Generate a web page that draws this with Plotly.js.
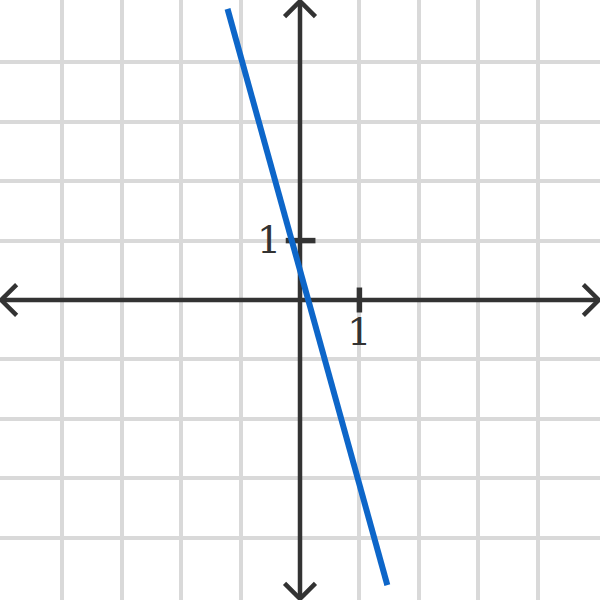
<!DOCTYPE html>
<html>
<head>
<meta charset="utf-8">
<script src="https://cdn.plot.ly/plotly-3.0.1.min.js"></script>
<style>
  html, body { margin: 0; padding: 0; background: #fff; }
  #plot { width: 600px; height: 600px; }
</style>
</head>
<body>
<div id="plot"></div>
<script>
// line y = -3.6x + 0.5, drawn between the visible endpoints
var lineX = [-1.22, 1.47];
var lineY = [4.9, -4.8];

// axes with chevron arrow heads
var xAxisX = [-5.03, 5.03];
var xAxisY = [0, 0];
var yAxisX = [0, 0];
var yAxisY = [-5.03, 5.03];
var arrowSize = 0.26;

// grid lines sit on the inner integers only
var gridVals = [-4, -3, -2, -1, 0, 1, 2, 3, 4];

// tick labels
var tickLabels = ["1", "1"];
var tickLabelX = [1, -0.52];
var tickLabelY = [-0.6, 0.95];

var axisColor = "#333333";

function chevron(tipX, tipY, dx, dy) {
  // dx, dy: direction the arrow points
  if (dx !== 0) {
    return {
      x: [tipX - dx * arrowSize, tipX, tipX - dx * arrowSize],
      y: [tipY + arrowSize, tipY, tipY - arrowSize]
    };
  }
  return {
    x: [tipX - arrowSize, tipX, tipX + arrowSize],
    y: [tipY - dy * arrowSize, tipY, tipY - dy * arrowSize]
  };
}

function axisTrace(x, y) {
  return {
    x: x, y: y, type: "scatter", mode: "lines",
    line: { color: axisColor, width: 4.5 },
    hoverinfo: "skip", showlegend: false
  };
}

var heads = [
  chevron(xAxisX[1], 0, 1, 0),
  chevron(xAxisX[0], 0, -1, 0),
  chevron(0, yAxisY[1], 0, 1),
  chevron(0, yAxisY[0], 0, -1)
];

var data = [
  axisTrace(xAxisX, xAxisY),
  axisTrace(yAxisX, yAxisY)
];
heads.forEach(function (h) { data.push(axisTrace(h.x, h.y)); });

// tick marks
data.push({
  x: [1, 1], y: [-0.21, 0.21], type: "scatter", mode: "lines",
  line: { color: axisColor, width: 5.5 }, hoverinfo: "skip", showlegend: false
});
data.push({
  x: [-0.24, 0.26], y: [1, 1], type: "scatter", mode: "lines",
  line: { color: axisColor, width: 5.5 }, hoverinfo: "skip", showlegend: false
});

// the line
data.push({
  x: lineX, y: lineY, type: "scatter", mode: "lines",
  line: { color: "#0d66c9", width: 6 }, hoverinfo: "skip", showlegend: false
});

// labels
data.push({
  x: tickLabelX, y: tickLabelY, type: "scatter", mode: "text",
  text: tickLabels,
  textfont: { family: "DejaVu Serif", size: 38, color: axisColor },
  textposition: "middle center",
  hoverinfo: "skip", showlegend: false, cliponaxis: false
});

var axisCommon = {
  range: [-5.05, 5.05],
  tickmode: "array",
  tickvals: gridVals,
  showgrid: true,
  gridcolor: "#d9d9d9",
  gridwidth: 4,
  zeroline: false,
  showticklabels: false,
  ticks: "",
  showline: false,
  fixedrange: true
};

var layout = {
  width: 600,
  height: 600,
  margin: { l: 0, r: 0, t: 0, b: 0 },
  paper_bgcolor: "#ffffff",
  plot_bgcolor: "#ffffff",
  xaxis: Object.assign({}, axisCommon),
  yaxis: Object.assign({}, axisCommon),
  showlegend: false
};

Plotly.newPlot("plot", data, layout, { staticPlot: true });
</script>
</body>
</html>
